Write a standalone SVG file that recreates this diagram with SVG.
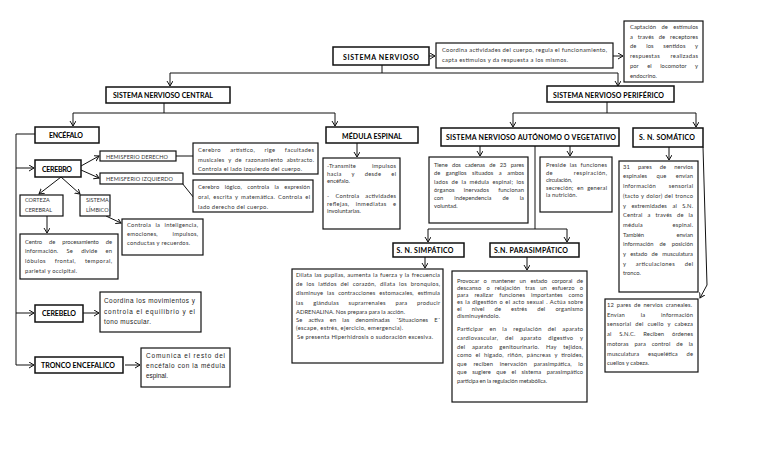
<svg xmlns="http://www.w3.org/2000/svg" width="768" height="466" viewBox="0 0 768 466">
<style>
.box{fill:#fff;stroke:#111;stroke-width:1.2}
.hb{fill:#fff;stroke:#111;stroke-width:1.5}
.t{font-family:Lato,"Liberation Sans",sans-serif;font-size:5.8px;fill:#333}
.m{font-family:"Liberation Sans",Arial,sans-serif;font-size:6.4px;fill:#222}
.u{font-family:Lato,"Liberation Sans",sans-serif;font-size:5.5px;fill:#333}
.b{font-family:Lato,"Liberation Sans",sans-serif;font-weight:bold;font-size:7px;fill:#000;text-anchor:middle}
.c{fill:none;stroke:#111;stroke-width:1}
</style>
<defs>
<marker id="ar" markerUnits="userSpaceOnUse" markerWidth="8" markerHeight="8" refX="5" refY="3" orient="auto">
<path d="M0,0 L5,3 L0,6" fill="none" stroke="#111" stroke-width="1"/>
</marker>
</defs>
<rect width="768" height="466" fill="#fff"/>

<g id="connectors">
<path class="c" d="M382,65 V73"/>
<path class="c" d="M382,73 H170 V86" marker-end="url(#ar)"/>
<path class="c" d="M382,73 H618 V86" marker-end="url(#ar)"/>
<path class="c" d="M429,56 H435" marker-end="url(#ar)"/>
<path class="c" d="M613,56 H623" marker-end="url(#ar)"/>
<path class="c" d="M164,103 V113"/>
<path class="c" d="M164,113 H73 V126" marker-end="url(#ar)"/>
<path class="c" d="M164,113 H335 V126" marker-end="url(#ar)"/>
<path class="c" d="M35,134 H16 V365"/>
<path class="c" d="M16,168 H34" marker-end="url(#ar)"/>
<path class="c" d="M16,313 H34" marker-end="url(#ar)"/>
<path class="c" d="M16,365 H34" marker-end="url(#ar)"/>
<path class="c" d="M81,166 L99,156" marker-end="url(#ar)"/>
<path class="c" d="M81,170 L99,178" marker-end="url(#ar)"/>
<path class="c" d="M176,156 H193"/>
<path class="c" d="M182,183 L194,198"/>
<path class="c" d="M61,177 L39,194" marker-end="url(#ar)"/>
<path class="c" d="M61,177 L80,194" marker-end="url(#ar)"/>
<path class="c" d="M106,216 L121,223" marker-end="url(#ar)"/>
<path class="c" d="M47,216 V233" marker-end="url(#ar)"/>
<path class="c" d="M83,313 H99" marker-end="url(#ar)"/>
<path class="c" d="M125,365 H140" marker-end="url(#ar)"/>
<path class="c" d="M357,143 V157" marker-end="url(#ar)"/>
<path class="c" d="M607,102 V113"/>
<path class="c" d="M607,113 H513 V127" marker-end="url(#ar)"/>
<path class="c" d="M607,113 H696 V127" marker-end="url(#ar)"/>
<path class="c" d="M480,146 V156" marker-end="url(#ar)"/>
<path class="c" d="M570,146 V156" marker-end="url(#ar)"/>
<path class="c" d="M535,146 V229"/>
<path class="c" d="M535,229 H428 V242" marker-end="url(#ar)"/>
<path class="c" d="M535,229 H567 V242" marker-end="url(#ar)"/>
<path class="c" d="M425,257 V268" marker-end="url(#ar)"/>
<path class="c" d="M527,257 V270" marker-end="url(#ar)"/>
<path class="c" d="M669,147 V160" marker-end="url(#ar)"/>
<path class="c" d="M703,147 L707,285 L700,298" marker-end="url(#ar)"/>
</g>

<g id="sistema-nervioso">
<rect class="hb" x="333" y="47" width="96" height="18"/>
<text class="b" x="381" y="59.5" font-size="8" textLength="76">SISTEMA NERVIOSO</text>
</g>
<g id="coordina-actividades">
<rect class="box" x="436" y="43" width="177" height="25"/>
<text class="t" x="442" y="52" textLength="165">Coordina actividades del cuerpo, regula el funcionamiento,</text>
<text class="t" x="442" y="62" textLength="126">capta estímulos  y da respuesta a los mismos.</text>
</g>
<g id="captacion">
<rect class="box" x="624" y="21" width="79" height="61"/>
<text class="t" x="630" y="29" textLength="68" word-spacing="3.9">Captación de estímulos</text>
<text class="t" x="630" y="38.7" textLength="68" word-spacing="3.2">a través de receptores</text>
<text class="t" x="630" y="48.4" textLength="68" word-spacing="8">de los sentidos y</text>
<text class="t" x="630" y="58.1" textLength="68" word-spacing="8.9">respuestas realizadas</text>
<text class="t" x="630" y="67.8" textLength="68" word-spacing="7">por el locomotor y</text>
<text class="t" x="630" y="77.5">endocrino.</text>
</g>

<g id="snc">
<rect class="hb" x="106" y="87" width="124" height="16"/>
<text class="b" x="163" y="98" textLength="100">SISTEMA NERVIOSO CENTRAL</text>
</g>
<g id="snp">
<rect class="hb" x="547" y="86" width="127" height="16"/>
<text class="b" x="608.5" y="97.5" textLength="111">SISTEMA NERVIOSO PERIFÉRICO</text>
</g>

<g id="encefalo">
<rect class="hb" x="35" y="127" width="64" height="16"/>
<text class="b" x="66" y="138" textLength="34">ENCÉFALO</text>
</g>
<g id="cerebro">
<rect class="hb" x="35" y="160" width="46" height="17"/>
<text class="b" x="57" y="171.5" textLength="30">CEREBRO</text>
</g>
<g id="hemisferio-derecho">
<rect class="box" x="100" y="151" width="76" height="10"/>
<text class="u" x="106" y="158.5" textLength="62">HEMISFERIO DERECHO</text>
</g>
<g id="hemisferio-izquierdo">
<rect class="box" x="100" y="173" width="83" height="11"/>
<text class="u" x="106" y="180.5" textLength="67">HEMISFERIO IZQUIERDO</text>
</g>
<g id="cerebro-artistico">
<rect class="box" x="193" y="143" width="125" height="31"/>
<text class="t" x="198" y="152" textLength="116" word-spacing="7.6">Cerebro artístico, rige facultades</text>
<text class="t" x="198" y="161.5" textLength="116" word-spacing="2">musicales y de razonamiento abstracto.</text>
<text class="t" x="198" y="171" textLength="104">Controla el lado izquierdo del cuerpo.</text>
</g>
<g id="cerebro-logico">
<rect class="box" x="193" y="180" width="120" height="32"/>
<text class="t" x="198" y="189" textLength="112" word-spacing="3.7">Cerebro lógico, controla la expresión</text>
<text class="t" x="198" y="199" textLength="112" word-spacing="1.1">oral, escrita y matemática.  Controla el</text>
<text class="t" x="198" y="209" textLength="70">lado derecho del cuerpo.</text>
</g>
<g id="corteza-cerebral">
<rect class="box" x="20" y="195" width="43" height="21"/>
<text class="u" x="25" y="202">CORTEZA</text>
<text class="u" x="25" y="211.5">CEREBRAL</text>
</g>
<g id="sistema-limbico">
<rect class="box" x="80" y="195" width="30" height="21"/>
<text class="u" x="86" y="202">SISTEMA</text>
<text class="u" x="86" y="211.5">LÍMBICO</text>
</g>
<g id="controla-inteligencia">
<rect class="box" x="122" y="219" width="81" height="36"/>
<text class="t" x="127" y="227" textLength="71" word-spacing="2.5">Controla la inteligencia,</text>
<text class="t" x="127" y="236" textLength="71" word-spacing="13">emociones, impulsos,</text>
<text class="t" x="127" y="245" textLength="63">conductas y recuerdos.</text>
</g>
<g id="centro-procesamiento">
<rect class="box" x="20" y="234" width="98" height="45"/>
<text class="t" x="25" y="243.5" textLength="87" word-spacing="5.6">Centro de procesamiento de</text>
<text class="t" x="25" y="253" textLength="87" word-spacing="6.6">información. Se divide en</text>
<text class="t" x="25" y="262.5" textLength="87" word-spacing="7">lóbulos frontal, temporal,</text>
<text class="t" x="25" y="272.5" textLength="52">parietal y occipital.</text>
</g>
<g id="cerebelo">
<rect class="hb" x="35" y="305" width="48" height="17"/>
<text class="b" x="59" y="316" textLength="34">CEREBELO</text>
</g>
<g id="coordina-movimientos">
<rect class="box" x="100" y="292" width="101" height="40"/>
<text class="m" x="104" y="303" textLength="91">Coordina los movimientos y</text>
<text class="m" x="104" y="313.5" textLength="91">controla el equilibrio y el</text>
<text class="m" x="104" y="324" textLength="47">tono muscular.</text>
</g>
<g id="tronco-encefalico">
<rect class="hb" x="35" y="357" width="88" height="16"/>
<text class="b" x="78" y="367.5" textLength="74">TRONCO ENCEFALICO</text>
</g>
<g id="comunica">
<rect class="box" x="141" y="348" width="89" height="39"/>
<text class="m" x="146" y="358" textLength="79">Comunica el resto del</text>
<text class="m" x="146" y="368" textLength="79">encéfalo con la médula</text>
<text class="m" x="146" y="378" textLength="22">espinal.</text>
</g>

<g id="medula-espinal">
<rect class="hb" x="326" y="127" width="92" height="16"/>
<text class="b" x="372" y="138.5" textLength="60">MÉDULA ESPINAL</text>
</g>
<g id="transmite">
<rect class="box" x="323" y="158" width="77" height="71"/>
<text class="t" x="327" y="168" textLength="69" word-spacing="14">-Transmite impulsos</text>
<text class="t" x="327" y="175.5" textLength="69" word-spacing="8.3">hacia y desde el</text>
<text class="t" x="327" y="183">encéfalo.</text>
<text class="t" x="327" y="198" textLength="69" word-spacing="4.4">- Controla actividades</text>
<text class="t" x="327" y="205.5" textLength="69" word-spacing="4.4">reflejas, inmediatas e</text>
<text class="t" x="327" y="213">involuntarias.</text>
</g>

<g id="sna">
<rect class="hb" x="441" y="128" width="178" height="18"/>
<text class="b" x="531" y="139.5" textLength="170">SISTEMA NERVIOSO AUTÓNOMO O VEGETATIVO</text>
</g>
<g id="tiene">
<rect class="box" x="429" y="157" width="99" height="66"/>
<text class="t" x="434" y="167" textLength="90" word-spacing="3">Tiene dos cadenas de 23 pares</text>
<text class="t" x="434" y="175" textLength="90" word-spacing="4">de ganglios situados a ambos</text>
<text class="t" x="434" y="183.5" textLength="90" word-spacing="1.8">lados de la médula espinal; los</text>
<text class="t" x="434" y="191.5" textLength="90" word-spacing="7.6">órganos inervados funcionan</text>
<text class="t" x="434" y="199.5" textLength="90" word-spacing="9.5">con independencia de la</text>
<text class="t" x="434" y="207.5">voluntad.</text>
</g>
<g id="preside">
<rect class="box" x="540" y="157" width="72" height="55"/>
<text class="t" x="546" y="167" textLength="61" word-spacing="1.8">Preside las funciones</text>
<text class="t" x="546" y="174.5" textLength="61" word-spacing="19">de respiración,</text>
<text class="t" x="546" y="182" textLength="26">circulación,</text>
<text class="t" x="546" y="189.5" textLength="61" word-spacing="1.8">secreción; en general</text>
<text class="t" x="546" y="197" textLength="31">la nutrición.</text>
</g>
<g id="somatico">
<rect class="hb" x="633" y="128" width="70" height="19"/>
<text class="b" x="667" y="139.5" textLength="56">S. N. SOMÁTICO</text>
</g>
<g id="treinta-y-un-pares">
<rect class="box" x="619" y="161" width="79" height="131"/>
<text class="t" x="623" y="168.7" textLength="70" word-spacing="6.7">31 pares de nervios</text>
<text class="t" x="623" y="178.4" textLength="70" word-spacing="7.8">espinales que envían</text>
<text class="t" x="623" y="188.1" textLength="70" word-spacing="10.9">información sensorial</text>
<text class="t" x="623" y="197.8" textLength="70" word-spacing="0.4">(tacto y dolor) del tronco</text>
<text class="t" x="623" y="207.5" textLength="70" word-spacing="3.8">y extremidades al S.N.</text>
<text class="t" x="623" y="217.2" textLength="70" word-spacing="3.3">Central a través de la</text>
<text class="t" x="623" y="226.9" textLength="70" word-spacing="28">médula espinal.</text>
<text class="t" x="623" y="236.6" textLength="70" word-spacing="31">También envían</text>
<text class="t" x="623" y="246.3" textLength="70" word-spacing="4.4">información de posición</text>
<text class="t" x="623" y="256" textLength="70" word-spacing="2.9">y estado de musculatura</text>
<text class="t" x="623" y="265.7" textLength="70" word-spacing="7.8">y articulaciones del</text>
<text class="t" x="623" y="275.4">tronco.</text>
</g>
<g id="doce-pares">
<rect class="box" x="605" y="299" width="93" height="73"/>
<text class="t" x="607" y="307" textLength="85" word-spacing="1.3">12 pares de nervios craneales.</text>
<text class="t" x="607" y="316.7" textLength="86" word-spacing="14">Envían la información</text>
<text class="t" x="607" y="326.4" textLength="86" word-spacing="2.2">sensorial del cuello y cabeza</text>
<text class="t" x="607" y="336.1" textLength="86" word-spacing="6.3">al S.N.C. Reciben órdenes</text>
<text class="t" x="607" y="345.8" textLength="86" word-spacing="4.2">motoras para control de la</text>
<text class="t" x="607" y="355.5" textLength="86" word-spacing="7.1">musculatura esquelética de</text>
<text class="t" x="607" y="365.2">cuellos y cabeza.</text>
</g>

<g id="simpatico">
<rect class="hb" x="393" y="243" width="71" height="14"/>
<text class="b" x="425" y="252.5" textLength="57">S. N. SIMPÁTICO</text>
</g>
<g id="parasimpatico">
<rect class="hb" x="490" y="243" width="89" height="14"/>
<text class="b" x="531" y="252.5" textLength="74">S.N. PARASIMPÁTICO</text>
</g>
<g id="dilata">
<rect class="box" x="292" y="269" width="151" height="94"/>
<text class="t" x="296" y="277" textLength="144" word-spacing="0.6">Dilata las pupilas, aumenta la fuerza y la frecuencia</text>
<text class="t" x="296" y="286" textLength="144" word-spacing="2">de los latidos del corazón, dilata los bronquios,</text>
<text class="t" x="296" y="295" textLength="144" word-spacing="2.2">disminuye las contracciones estomacales, estimula</text>
<text class="t" x="296" y="304.5" textLength="144" word-spacing="8">las glándulas suprarrenales para producir</text>
<text class="t" x="296" y="313.5" textLength="109">ADRENALINA.  Nos prepara para la acción.</text>
<text class="t" x="296" y="322" textLength="144" word-spacing="4.5">Se activa en las denominadas ´Situaciones E´</text>
<text class="t" x="296" y="330" textLength="107">(escape, estrés, ejercicio, emergencia).</text>
<text class="t" x="297" y="339" textLength="136">Se presenta  Hiperhidrosis o sudoración excesiva.</text>
</g>
<g id="provocar">
<rect class="box" x="452" y="271" width="135" height="131"/>
<text class="t" x="457" y="282.7" textLength="126" word-spacing="3">Provocar o mantener un estado corporal de</text>
<text class="t" x="457" y="289.7" textLength="126" word-spacing="3.5">descanso o relajación tras un esfuerzo o</text>
<text class="t" x="457" y="297" textLength="126" word-spacing="4.3">para realizar funciones importantes como</text>
<text class="t" x="457" y="304.3" textLength="126" word-spacing="0.6">es la digestión o el acto sexual . Actúa sobre</text>
<text class="t" x="457" y="311.3" textLength="126" word-spacing="8.4">el nivel de estrés del organismo</text>
<text class="t" x="457" y="318" textLength="43">disminuyéndolo.</text>
<text class="t" x="457" y="331.3" textLength="126" word-spacing="4.4">Participar en la regulación del aparato</text>
<text class="t" x="457" y="340.3" textLength="126" word-spacing="5">cardiovascular, del aparato digestivo y</text>
<text class="t" x="457" y="348.7" textLength="126" word-spacing="5">del aparato genitourinario. Hay tejidos,</text>
<text class="t" x="457" y="357" textLength="126" word-spacing="2">como el hígado, riñón, páncreas y tiroides,</text>
<text class="t" x="457" y="366" textLength="126" word-spacing="5">que reciben inervación parasimpática, lo</text>
<text class="t" x="457" y="374.3" textLength="126" word-spacing="3.8">que sugiere que el sistema parasimpático</text>
<text class="t" x="457" y="382.7" textLength="90">participa en la regulación metabólica.</text>
</g>
</svg>
